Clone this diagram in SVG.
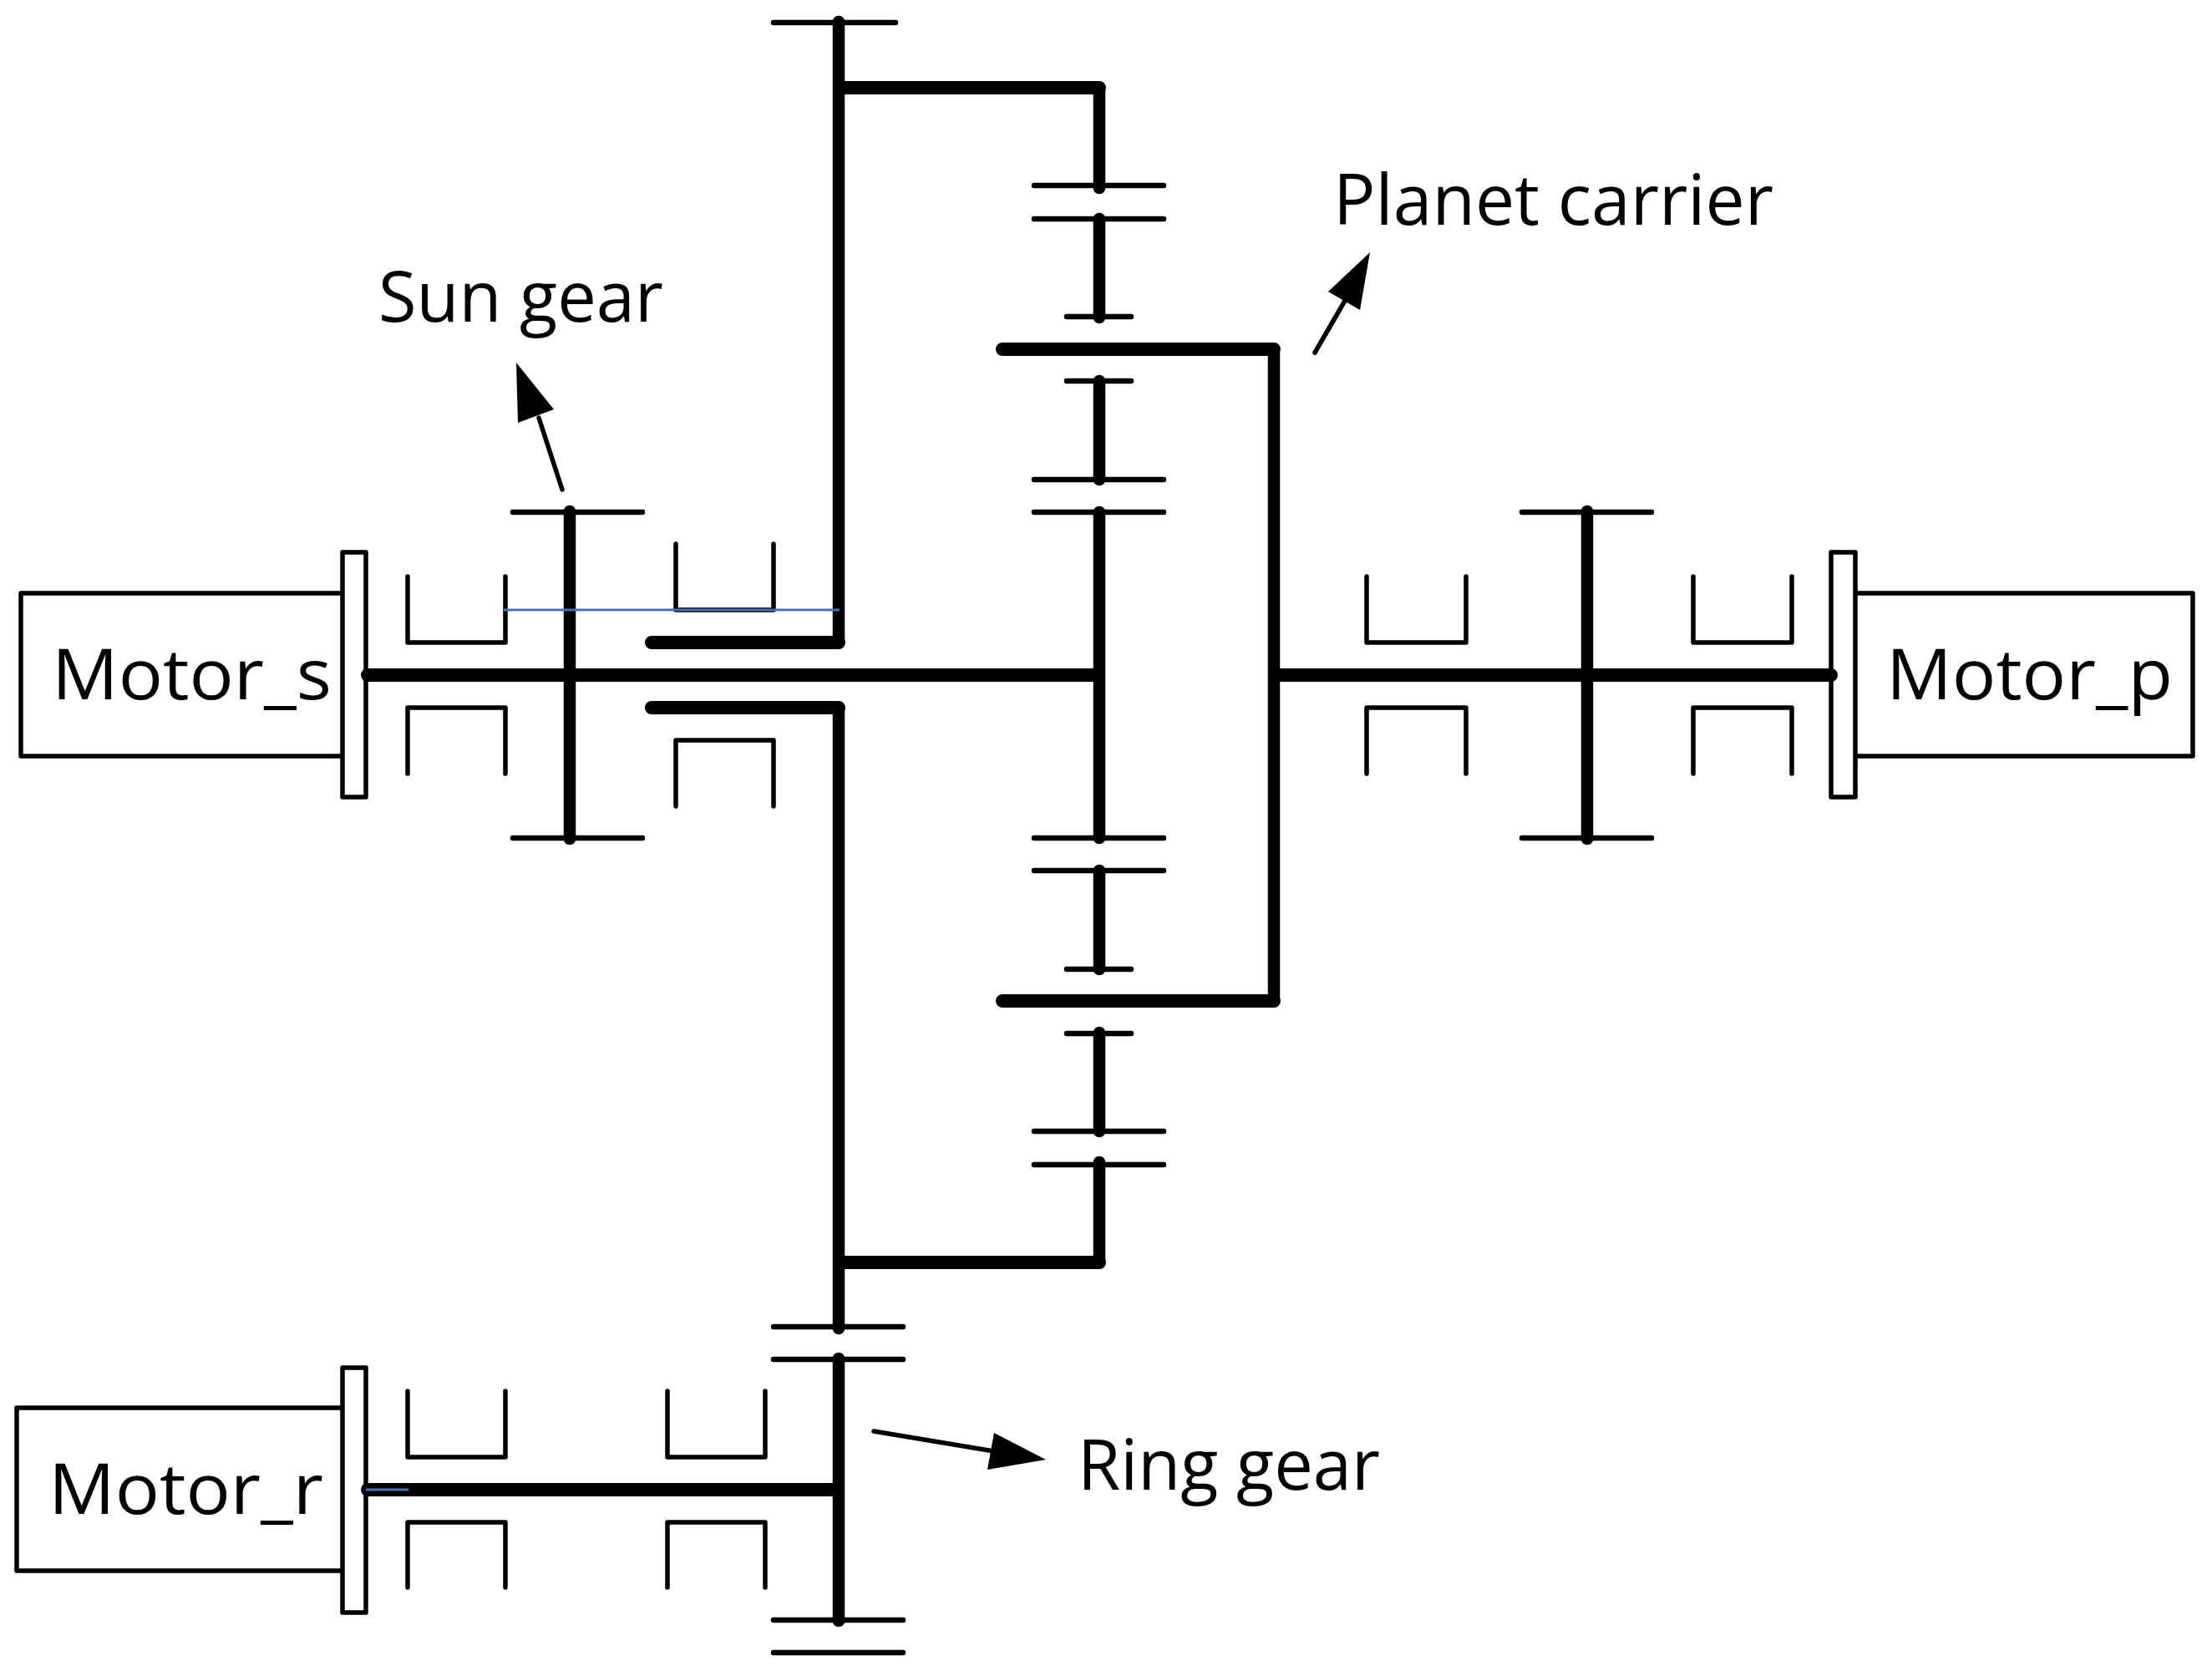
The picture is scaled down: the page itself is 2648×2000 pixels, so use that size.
<svg xmlns="http://www.w3.org/2000/svg" width="2648" height="2000" viewBox="0 0 2648 2000">
<style>
.t{fill:#000;font-family:"Open Sans","Noto Sans",sans-serif;font-size:84px}
.box{fill:#fff;stroke:#000;stroke-width:5.5;stroke-linejoin:round}
.s{fill:none;stroke:#000;stroke-linecap:round;stroke-linejoin:round}
.w16{stroke-width:16}.w14{stroke-width:14.5}.w6{stroke-width:6.5}.w5{stroke-width:5.5}
.blue{fill:none;stroke:#4472C4;stroke-width:3}
.head{fill:#000;stroke:none}
</style>
<rect width="2648" height="2000" fill="#fff"/>
<g id="motor_s">
<rect class="box" x="25" y="710" width="395" height="195"/>
<rect class="box" x="410" y="661" width="28" height="293"/>
<text class="t" x="62" y="837" textLength="335" lengthAdjust="spacingAndGlyphs">Motor_s</text>
</g>
<g id="motor_p">
<rect class="box" x="2210" y="710" width="415" height="195"/>
<rect class="box" x="2192" y="661" width="29" height="293"/>
<text class="t" x="2258" y="837" textLength="343" lengthAdjust="spacingAndGlyphs">Motor_p</text>
</g>
<g id="motor_r">
<rect class="box" x="20" y="1685" width="400" height="195"/>
<rect class="box" x="410" y="1637" width="28" height="293"/>
<text class="t" x="58" y="1812" textLength="329" lengthAdjust="spacingAndGlyphs">Motor_r</text>
</g>
<g id="sun_gear">
<path class="s w14" d="M682 612V1004"/>
<path class="s w6" d="M614 613H769M614 1003H769"/>
</g>
<g id="output_gear">
<path class="s w14" d="M1900 612V1004"/>
<path class="s w6" d="M1822 613H1977M1822 1003H1977"/>
</g>
<g id="bearings">
<path class="s w5" d="M488 690V769H605V690M488 926V847H605V926"/>
<path class="s w5" d="M809 651V730H926V651M809 965V886H926V965"/>
<path class="s w5" d="M1636 690V769H1755V690M1636 926V847H1755V926"/>
<path class="s w5" d="M2027 690V769H2145V690M2027 926V847H2145V926"/>
<path class="s w5" d="M488 1665V1744H605V1665M488 1900V1822H605V1900"/>
<path class="s w5" d="M799 1665V1744H916V1665M799 1900V1822H916V1900"/>
</g>
<g id="ring_gear">
<path class="s w14" d="M1004 26V769H780M1004 1590V847H780"/>
<path class="s w14" d="M1004 1626V1940"/>
<path class="s w6" d="M926 27H1072M926 1588H1081M926 1627H1081M926 1939H1081M926 1978H1081"/>
<path class="s w16" d="M1008 105H1316M1008 1511H1316"/>
<path class="s w14" d="M1316 105V225M1316 1511V1391"/>
</g>
<g id="planet_gears">
<path class="s w14" d="M1316 262V380M1316 456V574M1316 613V1003M1316 1042V1160M1316 1236V1354"/>
<path class="s w6" d="M1238 222H1393M1238 262H1393M1277 379H1354M1277 456H1354M1238 574H1393M1238 613H1393M1238 1003H1393M1238 1042H1393M1277 1160H1354M1277 1237H1354M1238 1354H1393M1238 1394H1393"/>
</g>
<g id="planet_carrier">
<path class="s w14" d="M1525 418V1198"/>
<path class="s w16" d="M1200 418H1525M1200 1198H1525"/>
</g>
<g id="connectors">
<path class="s w16" d="M440 808H1312M1532 808H2192"/>
<path class="s w16" d="M440 1783H1000"/>
<path class="s w16" d="M780 769H1004M780 847H1004"/>
<path class="blue" d="M603 730H1005"/>
<path class="blue" d="M438 1783H489"/>
<path class="s w5" d="M673 586L645 500"/>
<polygon class="head" points="618,434 663,490 620,506"/>
<path class="s w5" d="M1574 422L1610 360"/>
<polygon class="head" points="1640,302 1628,371 1590,349"/>
<path class="s w5" d="M1046 1713L1190 1737"/>
<polygon class="head" points="1252,1747 1182,1759 1190,1715"/>
</g>
<g id="labels">
<text class="t" x="453" y="385" textLength="341" lengthAdjust="spacingAndGlyphs">Sun gear</text>
<text class="t" x="1596" y="269" textLength="527" lengthAdjust="spacingAndGlyphs">Planet carrier</text>
<text class="t" x="1290" y="1783" textLength="362" lengthAdjust="spacingAndGlyphs">Ring gear</text>
</g>
</svg>
